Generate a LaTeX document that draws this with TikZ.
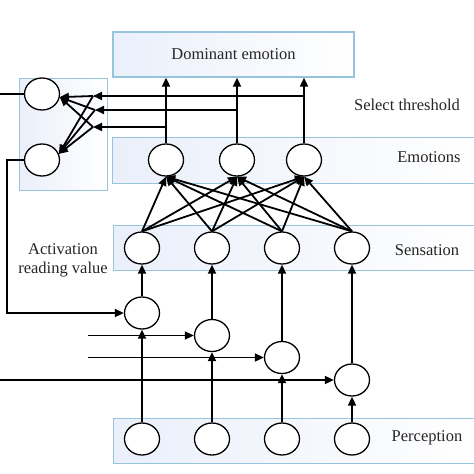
\documentclass[tikz,border=0pt]{standalone}
\usepackage{fontspec}
\setmainfont{Liberation Serif}
\usetikzlibrary{arrows.meta,shapes.geometric}
\definecolor{boxline}{RGB}{150,196,220}
\definecolor{boxfill}{RGB}{234,239,250}
\begin{document}
\begin{tikzpicture}[x=1pt,y=-1pt,
  neuron/.style={ellipse, draw, line width=1.3pt, fill=white, minimum width=35pt, minimum height=32pt, inner sep=0pt},
  layer/.style={draw=boxline, line width=1.3pt, left color=boxfill, right color=white, inner sep=0pt},
  conn/.style={line width=1.8pt, -{Triangle[length=9pt,width=8pt]}},
  wire/.style={line width=1.8pt},
  lbl/.style={font=\fontsize{16.5}{19}\selectfont, text=black!85, align=center}]
\useasboundingbox (0,0) rectangle (474,474);
% layer boxes
\node[layer, lbl, minimum width=241pt, minimum height=45pt] (dom) at (233.5,54.5) {Dominant emotion};
\node[layer, minimum width=88pt, minimum height=112pt, anchor=north west] (lbox) at (19,78) {};
\node[layer, minimum width=370pt, minimum height=46pt, anchor=north west] (embox) at (112,137) {};
\node[layer, minimum width=370pt, minimum height=45pt, anchor=north west] (sebox) at (112.5,225) {};
\node[layer, minimum width=370pt, minimum height=45pt, anchor=north west] (pebox) at (112.5,417.5) {};
% labels
\node[lbl] (selt) at (407,105) {Select threshold};
\node[lbl] (emot) at (429,157) {Emotions};
\node[lbl] (sens) at (427,250) {Sensation};
\node[lbl] (perc) at (427,438) {Perception};
\node[lbl] (actv) at (63,260) {Activation\\reading value};
% neurons
\node[neuron] (L1) at (42,94) {};
\node[neuron] (L2) at (42,160) {};
\node[neuron] (E1) at (166,160) {};
\node[neuron] (E2) at (237,160) {};
\node[neuron] (E3) at (304,160) {};
\foreach \i/\x in {1/142,2/212,3/282,4/352} {
  \node[neuron] (S\i) at (\x,248) {};
  \node[neuron] (P\i) at (\x,439) {};
}
\node[neuron] (M1) at (142,313) {};
\node[neuron] (M2) at (212,335.5) {};
\node[neuron] (M3) at (282,357.5) {};
\node[neuron] (M4) at (352,380) {};
% emotions to dominant
\foreach \i in {1,2,3} \draw[conn] (E\i) -- (E\i |- dom.south);
% threshold feedback lines
\coordinate (h1) at (304,96);
\coordinate (h2) at (237,110);
\coordinate (h3) at (166,127);
\coordinate (t1) at (93,96);
\coordinate (t2) at (95,110);
\coordinate (t3) at (93,127);
\foreach \i in {1,2,3} {
  \draw[conn] (h\i) -- (t\i);
  \draw[conn] (t\i) -- (L1.-10);
  \draw[conn] (t\i) -- (L2.20);
}
% outputs of left neurons
\coordinate (o1) at (0,94);
\draw[wire] (L1) -- (o1);
\coordinate (o2) at (7,160);
\draw[conn] (L2) -- (o2) |- (M1);
% sensation to emotions
\foreach \i in {1,2,3,4} \foreach \j in {1,2,3} \draw[conn] (S\i.north) -- (E\j.south);
% middle to sensation, perception to middle
\foreach \i in {1,2,3,4} {
  \draw[conn] (M\i) -- (S\i);
  \draw[conn] (P\i) -- (M\i);
}
% external inputs
\coordinate (i2) at (88,335.5);
\coordinate (i3) at (88,357.5);
\coordinate (i4) at (0,380);
\draw[conn] (i2) -- (M2);
\draw[conn] (i3) -- (M3);
\draw[conn] (i4) -- (M4);
\end{tikzpicture}
\end{document}
